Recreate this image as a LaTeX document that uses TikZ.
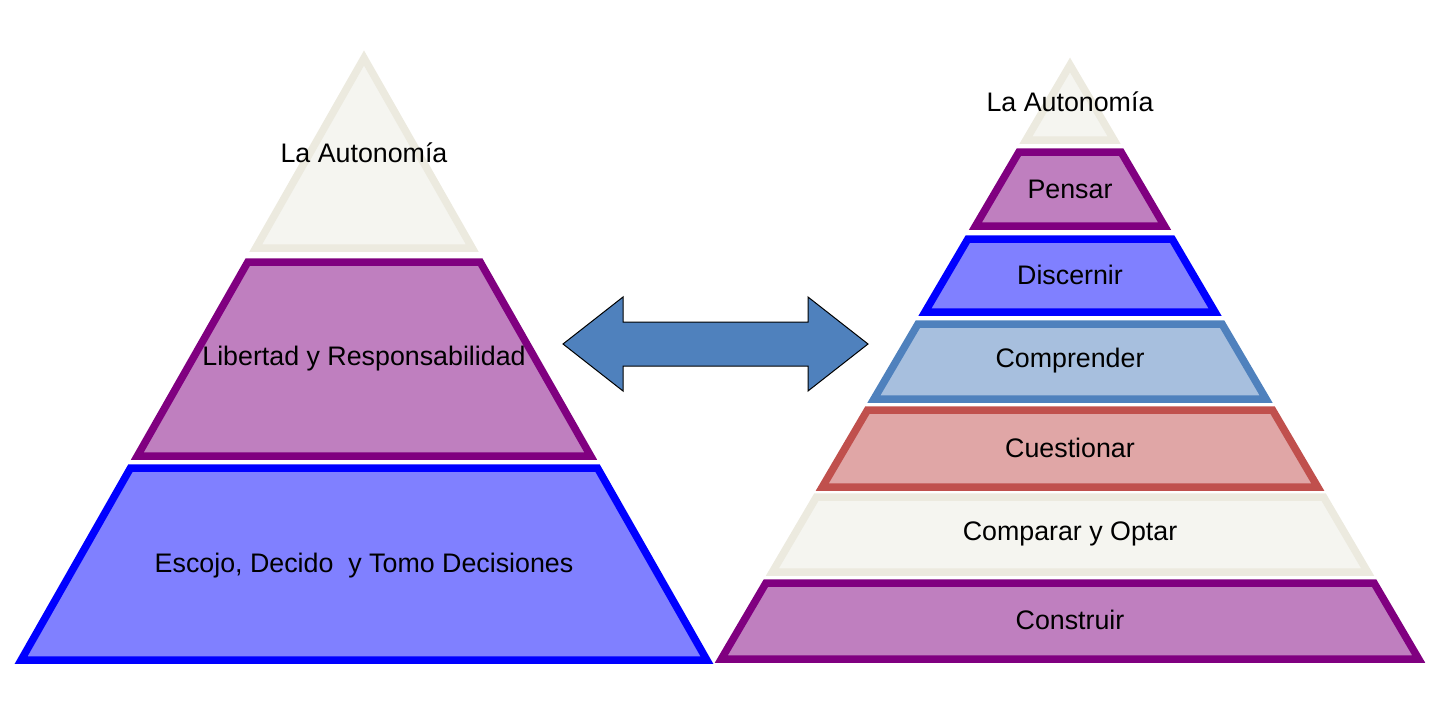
\documentclass[tikz,border=0pt]{standalone}
\usepackage{fontspec}
\setmainfont{Liberation Sans}
\begin{document}
\begin{tikzpicture}[x=1pt,y=-1pt,line join=miter,
  lay/.style={line width=7.5pt},
  lbl/.style={font=\fontsize{26.8}{30}\selectfont,inner sep=0},
  light/.style={lay,draw=lightB,fill=lightF},
  purp/.style={lay,draw=purpB,fill=purpF},
  blu/.style={lay,draw=bluB,fill=bluF},
  cmp/.style={lay,draw=cmpB,fill=cmpF},
  red/.style={lay,draw=redB,fill=redF}]
\definecolor{lightB}{HTML}{ECEADF}\definecolor{lightF}{HTML}{F5F5F0}
\definecolor{purpB}{HTML}{800080}\definecolor{purpF}{HTML}{BF7FBF}
\definecolor{bluB}{HTML}{0000FF}\definecolor{bluF}{HTML}{8080FF}
\definecolor{cmpB}{HTML}{4F81BD}\definecolor{cmpF}{HTML}{A7BFDE}
\definecolor{redB}{HTML}{C0504D}\definecolor{redF}{HTML}{E0A6A6}
\useasboundingbox (0,0) rectangle (1437,717);
% left pyramid: apex (364,58), half slope 0.5695
\def\L#1{\fpeval{364-(#1-58)*0.5695}}
\def\R#1{\fpeval{364+(#1-58)*0.5695}}
\draw[light] (364,58) -- (\R{248},248) -- (\L{248},248) -- cycle;
\draw[purp] (\L{262},262) -- (\R{262},262) -- (\R{456},456) -- (\L{456},456) -- cycle;
\draw[blu] (\L{468},468) -- (\R{468},468) -- (\R{660},660) -- (\L{660},660) -- cycle;
\node[lbl] (l1) at (364,153) {La Autonomía};
\node[lbl] (l2) at (364,359) {Libertad y Responsabilidad};
\node[lbl] (l3) at (364,566) {Escojo, Decido\ \ y Tomo Decisiones};
% right pyramid: apex (1070,65), half slope 0.587
\def\RL#1{\fpeval{1070-(#1-65)*0.587}}
\def\RR#1{\fpeval{1070+(#1-65)*0.587}}
\draw[light] (1070,65) -- (\RR{140},140) -- (\RL{140},140) -- cycle;
\node[lbl] (r0) at (1070,102) {La Autonomía};
\draw[purp] (\RL{152},152) -- (\RR{152},152) -- (\RR{226},226) -- (\RL{226},226) -- cycle;
\node[lbl] (r1) at (1070,189) {Pensar};
\draw[blu] (\RL{239},239) -- (\RR{239},239) -- (\RR{312},312) -- (\RL{312},312) -- cycle;
\node[lbl] (r2) at (1070,275) {Discernir};
\draw[cmp] (\RL{324},324) -- (\RR{324},324) -- (\RR{399},399) -- (\RL{399},399) -- cycle;
\node[lbl] (r3) at (1070,361) {Comprender};
\draw[red] (\RL{410},410) -- (\RR{410},410) -- (\RR{487},487) -- (\RL{487},487) -- cycle;
\node[lbl] (r4) at (1070,448) {Cuestionar};
\draw[light] (\RL{497},497) -- (\RR{497},497) -- (\RR{572},572) -- (\RL{572},572) -- cycle;
\node[lbl] (r5) at (1070,534) {Comparar y Optar};
\draw[purp] (\RL{583},583) -- (\RR{583},583) -- (\RR{659},659) -- (\RL{659},659) -- cycle;
\node[lbl] (r6) at (1070,620) {Construir};
% double arrow
\draw[fill=cmpB,draw=black,line width=1pt] (563,344) -- (623,297) -- (623,322) -- (808,322) -- (808,297) -- (868,344) -- (808,391) -- (808,366) -- (623,366) -- (623,391) -- cycle;
\end{tikzpicture}
\end{document}
